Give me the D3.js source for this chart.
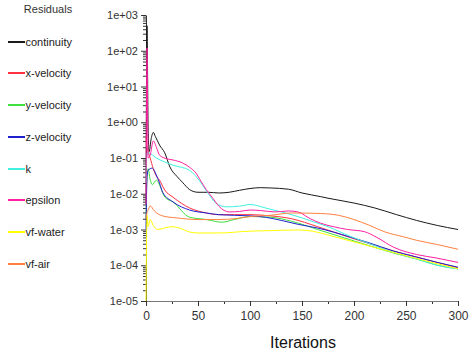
<!DOCTYPE html>
<html>
<head>
<meta charset="utf-8">
<script src="https://cdn.jsdelivr.net/npm/d3@7"></script>
<style>
  body { margin: 0; background: #fff; }
  text { font-family: Arial, "Liberation Sans", sans-serif; }
</style>
</head>
<body>
<div id="canvas"></div>
<script>
"use strict"

let svgWidth = 474
let svgHeight = 353

let margin = { top: 15, right: 12, bottom: 52, left: 146 }

// residual histories, [iteration, value]
let continuity = [[0,0.005],[1,500],[2,0.9],[3,0.15],[5,0.35],[7,0.52],[9,0.4],[13,0.23],[18,0.14],[23,0.056],[30,0.03],[35,0.021],[42,0.013],[50,0.011],[60,0.011],[70,0.0105],[80,0.011],[90,0.0125],[100,0.014],[110,0.0148],[120,0.0145],[137,0.0134],[150,0.0105],[168,0.0083],[175,0.0075],[200,0.0055],[220,0.0040],[241,0.0026],[260,0.0018],[280,0.0013],[300,0.001]]
let xVelocity = [[0,0.4],[1,0.2],[2,0.15],[4,0.1],[7,0.05],[10,0.031],[13,0.024],[18,0.0127],[26,0.008],[42,0.004],[58,0.0029],[70,0.0026],[85,0.0026],[100,0.0026],[120,0.0024],[140,0.002],[165,0.0012],[196,0.0006],[215,0.0004],[238,0.00025],[260,0.00017],[280,0.00012],[300,0.000085]]
let yVelocity = [[0,0.002],[1,0.03],[2,0.05],[4,0.025],[6,0.018],[10,0.024],[14,0.015],[18,0.0081],[26,0.0059],[42,0.0022],[58,0.0019],[73,0.0016],[85,0.0019],[100,0.0023],[120,0.0022],[140,0.0017],[165,0.001],[196,0.00052],[215,0.00035],[238,0.00022],[260,0.00015],[280,0.0001],[300,0.000079]]
let zVelocity = [[0,0.001],[1,0.03],[2,0.045],[6,0.052],[10,0.033],[13,0.02],[16,0.011],[26,0.0059],[42,0.0035],[58,0.0029],[70,0.0026],[85,0.0025],[100,0.0024],[115,0.0022],[130,0.0018],[146,0.0014],[165,0.0011],[196,0.00062],[215,0.00042],[238,0.00025],[260,0.00017],[280,0.00012],[300,0.000088]]
let kResid = [[0,0.02],[1,0.14],[2,0.14],[10,0.1],[26,0.063],[42,0.045],[51,0.024],[59,0.011],[67,0.0055],[77,0.0043],[90,0.0045],[100,0.005],[115,0.004],[130,0.0031],[146,0.0023],[165,0.0015],[175,0.0012],[196,0.00065],[215,0.0004],[238,0.00023],[260,0.00015],[280,0.0001],[300,0.000079]]
let epsilon = [[0,0.005],[1,120],[2,0.1],[4,0.12],[7,0.3],[10,0.2],[13,0.12],[20,0.095],[26,0.088],[35,0.073],[42,0.055],[48,0.038],[53,0.022],[58,0.013],[64,0.0077],[70,0.0045],[80,0.0031],[90,0.0032],[100,0.0035],[110,0.0034],[124,0.0031],[137,0.0033],[146,0.0031],[158,0.002],[168,0.0015],[180,0.0012],[194,0.001],[210,0.00087],[222,0.0006],[238,0.00032],[260,0.0002],[279,0.00016],[300,0.00012]]
let vfWater = [[0,0.00001],[1,0.0025],[2,0.0012],[4,0.0019],[7,0.0013],[11,0.001],[18,0.0011],[25,0.0012],[32,0.0011],[42,0.00085],[50,0.0008],[70,0.0008],[100,0.0009],[118,0.00093],[146,0.00097],[160,0.0009],[175,0.0007],[200,0.00045],[240,0.00022],[270,0.00013],[300,0.00008]]
let vfAir = [[0,0.002],[1,0.003],[2,0.0035],[4,0.0046],[8,0.0033],[16,0.0024],[30,0.0021],[50,0.0019],[70,0.0019],[85,0.002],[100,0.0023],[120,0.0025],[140,0.0029],[168,0.0028],[185,0.0025],[200,0.0019],[215,0.0013],[230,0.00085],[248,0.00062],[260,0.0005],[280,0.00038],[300,0.00028]]

let seriesNames = ["continuity", "x-velocity", "y-velocity", "z-velocity", "k", "epsilon", "vf-water", "vf-air"]
let seriesColors = ["#1a1a1a", "#ff3040", "#40e040", "#2020d0", "#40f0e0", "#ff20a0", "#ffff00", "#ff8040"]
let seriesData = [continuity, xVelocity, yVelocity, zVelocity, kResid, epsilon, vfWater, vfAir]

let xTicks = [0, 50, 100, 150, 200, 250, 300]
let yTicks = [1e-5, 1e-4, 1e-3, 1e-2, 1e-1, 1e0, 1e1, 1e2, 1e3]

let svg = d3.select("#canvas")
    .append("svg")
    .attr("width", svgWidth)
    .attr("height", svgHeight)

let xScale = d3.scaleLinear()
    .domain([0, 300])
    .range([margin.left, svgWidth - margin.right - 4])

let yScale = d3.scaleLog()
    .domain([1e-5, 1e3])
    .range([svgHeight - margin.bottom, margin.top])

function expLabel(v) {
    let e = Math.round(Math.log10(v))
    return "1e" + (e < 0 ? "-" : "+") + String(Math.abs(e)).padStart(2, "0")
}

// minor ticks
let yMinor = []
for (let e = -5; e < 3; e++) {
    for (let m = 2; m < 10; m++) yMinor.push(m * Math.pow(10, e))
}
let xMinor = [25, 75, 125, 175, 225, 275]

svg.append("g")
    .attr("transform", `translate(${margin.left},0)`)
    .call(d3.axisLeft(yScale).tickValues(yMinor).tickSize(3).tickFormat(""))
    .call(g => g.select(".domain").remove())
    .call(g => g.selectAll("line").attr("stroke", "#333"))

svg.append("g")
    .attr("transform", `translate(0,${svgHeight - margin.bottom})`)
    .call(d3.axisBottom(xScale).tickValues(xMinor).tickSize(3).tickFormat(""))
    .call(g => g.select(".domain").remove())
    .call(g => g.selectAll("line").attr("stroke", "#333"))

/* Draw Y Axis */
svg.append("g")
    .attr("transform", `translate(${margin.left},0)`)
    .call(d3.axisLeft(yScale).tickValues(yTicks).tickSize(5).tickSizeOuter(0).tickFormat(expLabel).tickPadding(3))
    .call(g => g.select(".domain").attr("stroke", "#333"))
    .call(g => g.selectAll("line").attr("stroke", "#333"))
    .call(g => g.selectAll("text").attr("fill", "#333").attr("font-size", 11).attr("font-family", "Arial, 'Liberation Sans', sans-serif"))

/* Draw X Axis */
svg.append("g")
    .attr("transform", `translate(0,${svgHeight - margin.bottom})`)
    .call(d3.axisBottom(xScale).tickValues(xTicks).tickSize(5).tickSizeOuter(0).tickPadding(5))
    .call(g => g.select(".domain").attr("stroke", "#777"))
    .call(g => g.selectAll("line").attr("stroke", "#333"))
    .call(g => g.selectAll("text").attr("fill", "#333").attr("font-size", 12).attr("font-family", "Arial, 'Liberation Sans', sans-serif"))

/* X Axis Label */
svg.append("text")
    .attr("x", 303)
    .attr("y", 348)
    .attr("text-anchor", "middle")
    .attr("font-size", 16)
    .attr("fill", "#111")
    .text("Iterations")

/* Residual lines */
let line = d3.line()
    .x(d => xScale(d[0]))
    .y(d => yScale(d[1]))
    .curve(d3.curveMonotoneX)

svg.selectAll("path.resid")
    .data(seriesData)
    .enter()
    .append("path")
    .attr("class", "resid")
    .attr("d", d => line(d))
    .attr("fill", "none")
    .attr("stroke", (d, i) => seriesColors[i])
    .attr("stroke-width", 1)

/* Legend */
let legend = svg.append("g")

legend.append("text")
    .attr("x", 48)
    .attr("y", 13)
    .attr("text-anchor", "middle")
    .attr("font-size", 11)
    .attr("fill", "#333")
    .text("Residuals")

seriesNames.forEach(function (name, i) {
    let y = Math.round(41.7 + i * 31.75)
    legend.append("line")
        .attr("x1", 8)
        .attr("x2", 25)
        .attr("y1", y)
        .attr("y2", y)
        .attr("stroke", seriesColors[i])
        .attr("stroke-width", 2)
    legend.append("text")
        .attr("x", 25.5)
        .attr("y", y + 4)
        .attr("font-size", 11)
        .attr("fill", "#222")
        .text(name)
})
</script>
</body>
</html>
